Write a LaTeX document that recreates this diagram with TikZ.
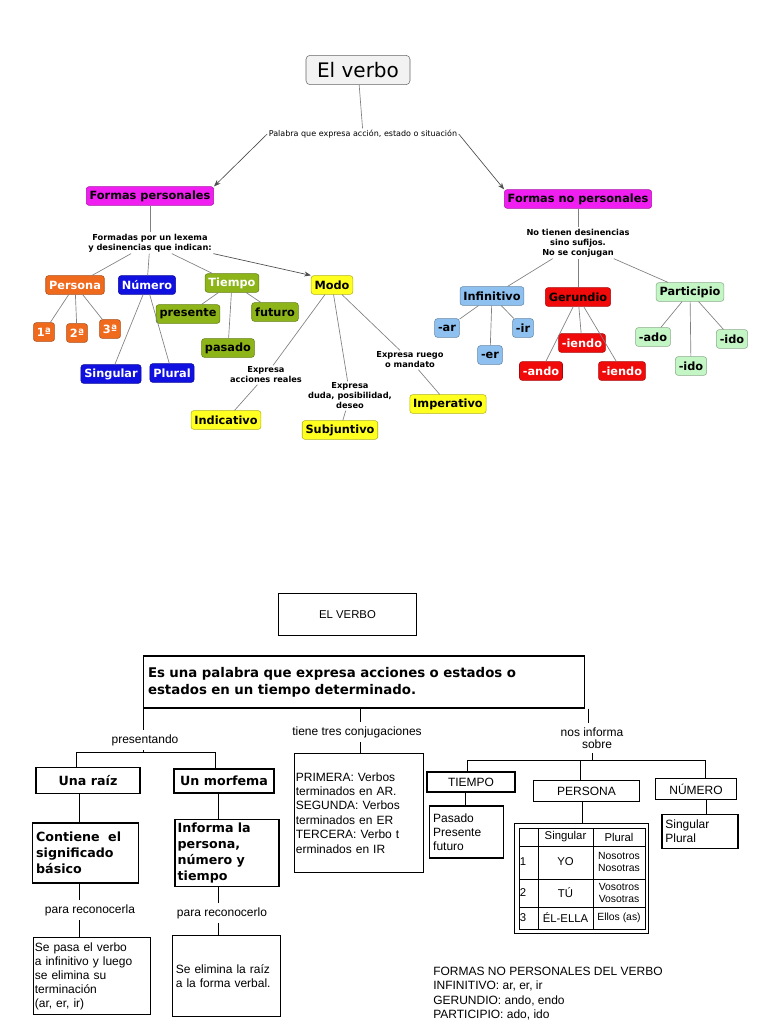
\documentclass[tikz,border=0pt]{standalone}
\usepackage{fontspec}
\setmainfont{Liberation Sans}
\newfontfamily\dv{DejaVu Sans}
\usetikzlibrary{arrows.meta}
\definecolor{mag}{HTML}{F01EF0}
\definecolor{orng}{HTML}{F06A1E}
\definecolor{blu}{HTML}{1010E0}
\definecolor{grn}{HTML}{8DB51A}
\definecolor{yel}{HTML}{FFFF20}
\definecolor{lblu}{HTML}{8EC0F0}
\definecolor{rd}{HTML}{F00A0A}
\definecolor{lgrn}{HTML}{C4F5C4}
\hyphenpenalty=10000 \exhyphenpenalty=10000
\begin{document}
\begin{tikzpicture}[x=0.75pt,y=-0.75pt,
 cm/.style={rounded corners=2pt,draw=#1!70!black,fill=#1,font=\dv\bfseries\fontsize{8.5}{9}\selectfont,inner sep=2.5pt,minimum height=14pt},
 wt/.style={text=white},
 lab/.style={font=\dv\bfseries\fontsize{6.2}{7.5}\selectfont,align=center,inner sep=1pt},
 ln/.style={draw=black!50,line width=0.5pt},
 ar/.style={draw=black!70,line width=0.5pt,-{Stealth[length=5pt]}},
 bx/.style={draw,line width=0.8pt,inner sep=3pt},
 bt/.style={font=\fontsize{9}{10.5}\selectfont,align=left},
 hv/.style={font=\dv\bfseries\fontsize{9.5}{12}\selectfont,align=left},
 el/.style={draw,line width=0.6pt}]
\useasboundingbox (0,0) rectangle (768,1024);
% ---------- top map
\node[draw=black!60,fill=black!5,rounded corners=3pt,font=\dv\fontsize{15}{17}\selectfont,minimum width=78pt,minimum height=22pt] (ev) at (358,70) {El verbo};
\node[lab,font=\dv\fontsize{6}{7}\selectfont] (l0) at (363,134) {Palabra que expresa acción, estado o situación};
\node[cm=mag] (fp) at (150,196) {Formas personales};
\node[cm=mag] (fnp) at (578,199) {Formas no personales};
\draw[ln] (ev) -- (l0);
\draw[ar] (l0.west) -- (fp.north east);
\draw[ar] (l0.east) -- (fnp.north west);
\node[lab] (l1) at (150,243) {Formadas por un lexema\\y desinencias que indican:};
\draw[ln] (fp) -- (l1);
\node[cm=orng,wt] (per) at (75,285) {Persona};
\node[cm=blu,wt] (num) at (147,285) {Número};
\node[cm=grn,wt] (tie) at (232,283) {Tiempo};
\node[cm=yel] (mod) at (332,285) {Modo};
\draw[ln] (l1) -- (per); \draw[ln] (l1) -- (num); \draw[ln] (l1) -- (tie);
\draw[ar] (l1.south east) -- (mod.north west);
\node[cm=orng,wt] (p1) at (44,332) {1ª};
\node[cm=orng,wt] (p2) at (77,333) {2ª};
\node[cm=orng,wt] (p3) at (110,329) {3ª};
\foreach \n in {p1,p2,p3} \draw[ln] (per) -- (\n);
\node[cm=grn] (pre) at (188,314) {presente};
\node[cm=grn] (fut) at (275,312) {futuro};
\node[cm=grn] (pas) at (228,348) {pasado};
\foreach \n in {pre,fut,pas} \draw[ln] (tie) -- (\n);
\node[cm=blu,wt] (sg) at (111,374) {Singular};
\node[cm=blu,wt] (pl) at (172,373) {Plural};
\draw[ln] (num) -- (sg); \draw[ln] (num) -- (pl);
\node[lab] (m1) at (266,375) {Expresa\\acciones reales};
\node[lab] (m2) at (350,396) {Expresa\\duda, posibilidad,\\deseo};
\node[lab] (m3) at (410,360) {Expresa ruego\\o mandato};
\node[cm=yel] (ind) at (226,420) {Indicativo};
\node[cm=yel] (sub) at (340,430) {Subjuntivo};
\node[cm=yel] (imp) at (448,404) {Imperativo};
\draw[ln] (mod) -- (m1) -- (ind); \draw[ln] (mod) -- (m2) -- (sub); \draw[ln] (mod) -- (m3) -- (imp);
\node[lab] (l2) at (578,243) {No tienen desinencias\\sino sufijos.\\No se conjugan};
\draw[ln] (fnp) -- (l2);
\node[cm=lblu] (inf) at (492,296) {Infinitivo};
\node[cm=rd] (ger) at (578,297) {Gerundio};
\node[cm=lgrn] (par) at (690,292) {Participio};
\draw[ln] (l2) -- (inf); \draw[ln] (l2) -- (ger); \draw[ln] (l2) -- (par);
\node[cm=lblu] (iar) at (447,328) {-ar};
\node[cm=lblu] (ier) at (490,355) {-er};
\node[cm=lblu] (iir) at (523,328) {-ir};
\foreach \n in {iar,ier,iir} \draw[ln] (inf) -- (\n);
\node[cm=rd,wt] (g1) at (582,343) {-iendo};
\node[cm=rd,wt] (g2) at (541,371) {-ando};
\node[cm=rd,wt] (g3) at (622,371) {-iendo};
\foreach \n in {g1,g2,g3} \draw[ln] (ger) -- (\n);
\node[cm=lgrn] (a1) at (653,337) {-ado};
\node[cm=lgrn] (a2) at (691,366) {-ido};
\node[cm=lgrn] (a3) at (732,339) {-ido};
\foreach \n in {a1,a2,a3} \draw[ln] (par) -- (\n);
% ---------- bottom map
\node[bx,minimum width=104pt,minimum height=32pt,font=\rmfamily\fontsize{8.5}{9}\selectfont] (EV) at (347.5,614.5) {EL VERBO};
\node[bx,minimum width=331pt,minimum height=39pt,text width=324pt,font=\dv\bfseries\fontsize{10}{13}\selectfont,align=left] (big) at (364,682) {Es una palabra que expresa acciones o estados o\\estados en un tiempo determinado.};
\node[bt] (pres) at (145,740) {presentando};
\coordinate (bl) at (143,708);
\coordinate (h1) at (76,752); \coordinate (h2) at (215,752);
\draw[el] (bl) -- (pres.north -| bl);
\draw[el] (pres.south -| bl) -- (143,752);
\draw[el] (h1) -- (h2);
\node[bx,minimum width=78pt,minimum height=19pt,hv] (rai) at (88,780.5) {Una raíz};
\node[bx,minimum width=75pt,minimum height=18pt,hv,inner sep=1pt] (mor) at (224,781) {Un morfema};
\draw[el] (h1) -- (rai.north -| h1); \draw[el] (h2) -- (mor.north -| h2);
\node[bx,minimum width=79pt,minimum height=45pt,text width=74pt,hv,inner sep=1.5pt] (con) at (85.5,853) {Contiene\ \ el significado básico};
\node[bx,minimum width=78pt,minimum height=50pt,text width=74pt,hv,inner sep=1.5pt] (infm) at (227,853) {Informa la persona, número y tiempo};
\draw[el] (rai.south -| 79,0) -- (con.north -| 79,0);
\draw[el] (mor.south -| 218,0) -- (infm.north -| 218,0);
\node[bt] (rc1) at (90,910) {para reconocerla};
\node[bt] (rc2) at (222,913) {para reconocerlo};
\node[bx,minimum width=88pt,minimum height=58pt,text width=86pt,bt,inner sep=1pt,anchor=north west,font=\fontsize{9}{10.5}\selectfont] (sp) at (33,937) {Se pasa el verbo a infinitivo y luego se elimina su terminación\\(ar, er, ir)};
\node[bx,minimum width=81pt,minimum height=61pt,text width=76pt,bt,inner sep=2pt,anchor=north west,font=\fontsize{9}{10.5}\selectfont] (se) at (172,935) {Se elimina la raíz a la forma verbal.\\[26pt]};
\draw[el] (con.south -| 79,0) -- (rc1.north -| 79,0);
\draw[el] (rc1.south -| 79,0) -- (sp.north -| 79,0);
\draw[el] (infm.south -| 218,0) -- (rc2.north -| 218,0);
\draw[el] (rc2.south -| 218,0) -- (se.north -| 218,0);
\node[bt] (tres) at (357,732) {tiene tres conjugaciones};
\draw[el] (big.south -| 360,0) -- (tres.north -| 360,0);
\node[bx,minimum width=97pt,minimum height=89pt,text width=95pt,bt,anchor=north west,inner sep=1pt,font=\fontsize{9}{10.8}\selectfont] (pri) at (294,753) {PRIMERA: Verbos terminados en AR.\\SEGUNDA: Verbos terminados en ER\\TERCERA: Verbo t\\erminados en IR\\[22pt]};
\draw[el] (tres.south -| 360,0) -- (pri.north -| 360,0);
\node[bt,align=center,font=\fontsize{9}{9}\selectfont] (inf2) at (592,738) {nos informa\\\ \ \ sobre};
\coordinate (t1) at (467,760); \coordinate (t3) at (705,760);
\draw[el] (big.south -| 588,0) -- (inf2.north -| 588,0);
\draw[el] (inf2.south -| 592,0) -- (592,760);
\draw[el] (t1) -- (t3);
\node[bx,minimum width=66pt,minimum height=15pt,bt,inner sep=1pt] (tp) at (471,782) {TIEMPO};
\node[bx,minimum width=80pt,minimum height=16pt,bt,inner sep=1pt] (ps) at (586.5,791) {PERSONA};
\node[bx,minimum width=61pt,minimum height=16pt,bt,inner sep=1pt] (nm) at (696,789) {NÚMERO};
\draw[el] (t1) -- (tp.north -| t1); \draw[el] (t3) -- (nm.north -| t3);
\draw[el] (580,760) -- (ps.north -| 580,0);
\node[bx,minimum width=56pt,minimum height=39pt,text width=50pt,bt,inner sep=1pt] (pas2) at (466.5,832) {Pasado\\Presente\\futuro};
\draw[el] (tp.south -| 465,0) -- (pas2.north -| 465,0);
\node[bx,minimum width=57pt,minimum height=25pt,text width=52pt,bt,inner sep=1pt] (sgp) at (700,831.5) {Singular\\Plural};
\draw[el] (nm.south -| 706,0) -- (sgp.north -| 706,0);
\node[draw,line width=0.8pt,minimum width=101pt,minimum height=83pt,inner sep=0pt] (tab) at (581.5,878.5) {};
\draw[el] (ps.south -| 582,0) -- (tab.north -| 582,0);
\begin{scope}[line width=0.6pt,font=\fontsize{8.5}{9}\selectfont]
\draw (519,828) rectangle (645,929);
\foreach \x in {538,593} \draw (\x,828) -- (\x,929);
\foreach \y in {846,879,907} \draw (519,\y) -- (645,\y);
\node (c1) at (565.5,837) {Singular}; \node (c2) at (619,837) {Plural};
\node (r1) at (523,862) {1}; \node (r2) at (523,893) {2}; \node (r3) at (523,918) {3};
\node (y1) at (565.5,862) {YO}; \node (y2) at (565.5,893) {TÚ}; \node (y3) at (565.5,918) {ÉL-ELLA};
\node[align=left,inner sep=0pt,font=\fontsize{7.8}{8.6}\selectfont] (n1) at (619,862) {Nosotros\\Nosotras};
\node[align=left,inner sep=0pt,font=\fontsize{7.8}{8.6}\selectfont] (n2) at (619,893) {Vosotros\\Vosotras};
\node[inner sep=0pt,font=\fontsize{7.8}{8.6}\selectfont] (n3) at (619,918) {Ellos (as)};
\end{scope}
\node[bt,anchor=north west,font=\fontsize{9}{10.7}\selectfont,inner sep=0pt] (fnp2) at (433,967) {FORMAS NO PERSONALES DEL VERBO\\INFINITIVO: ar, er, ir\\GERUNDIO: ando, endo\\PARTICIPIO: ado, ido};
\end{tikzpicture}
\end{document}
